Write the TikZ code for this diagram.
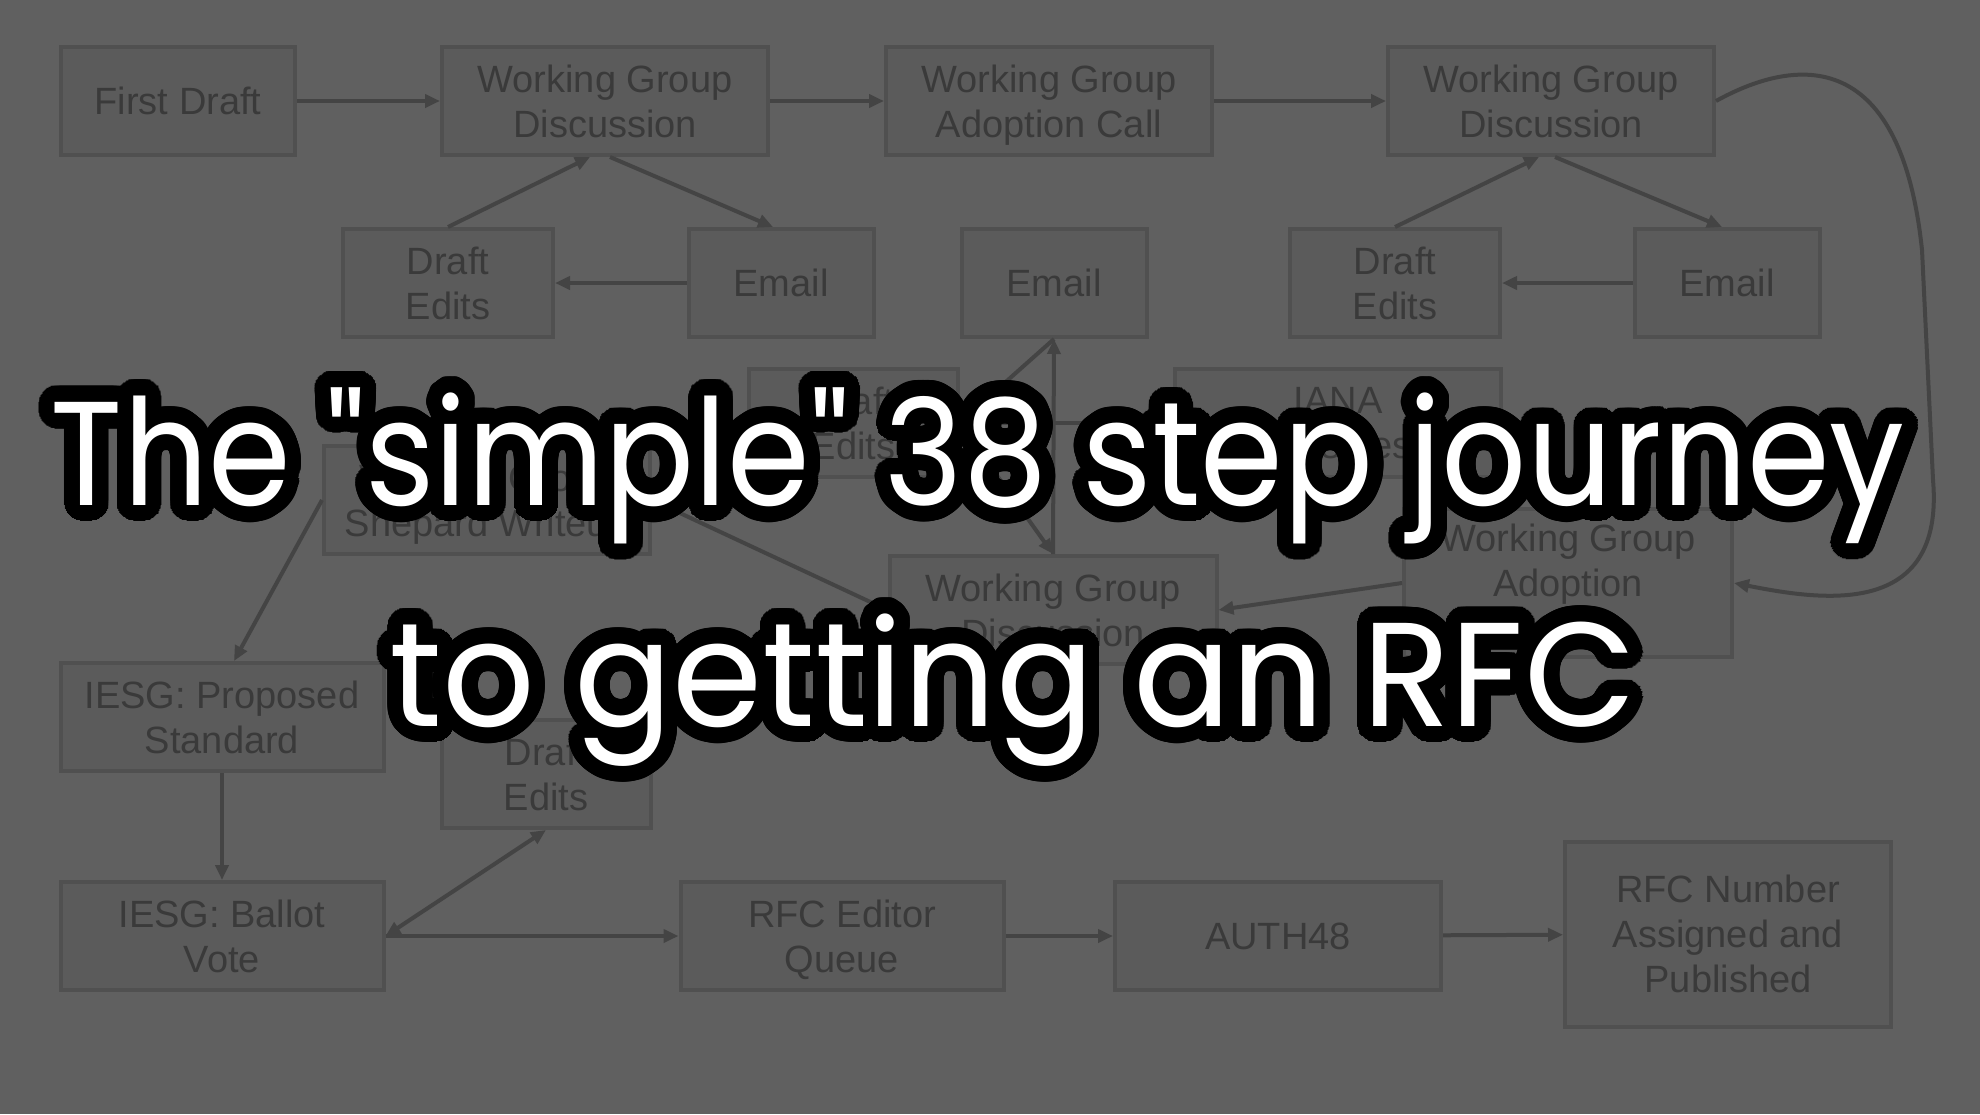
\documentclass[tikz,border=0pt]{standalone}
\usepackage{fontspec}
\setmainfont{Liberation Sans}
\newfontfamily\titlefonta[FakeStretch=0.90]{Poppins}
\newfontfamily\titlefontb[FakeStretch=0.98]{Poppins}
\usepackage[copies]{contour}
\contourlength{16pt}
\contournumber{60}
\usetikzlibrary{arrows.meta}
\definecolor{bg}{RGB}{96,96,96}
\definecolor{boxfill}{RGB}{91,91,91}
\definecolor{boxline}{RGB}{80,80,80}
\definecolor{boxtext}{RGB}{58,58,58}
\definecolor{arr}{RGB}{68,68,68}
\tikzset{
  box/.style={draw=boxline, fill=boxfill, line width=4pt, inner sep=0pt,
    text=boxtext, align=center, font=\fontsize{38}{45}\selectfont,
    minimum height=108pt, text depth=0pt},
  conn/.style={draw=arr, line width=4pt, -{Triangle[length=15pt,width=13pt]}},
  both/.style={draw=arr, line width=4pt,
    {Triangle[length=15pt,width=13pt]}-{Triangle[length=15pt,width=13pt]}},
  titletext/.style={text=white, inner sep=0pt}
}
\begin{document}
\begin{tikzpicture}[x=1pt,y=-1pt]
\useasboundingbox (0,0) rectangle (1980,1114);
\fill[bg] (0,0) rectangle (1980,1114);

% row 1
\node[box, minimum width=234pt] (fd) at (178,101) {First Draft};
\node[box, minimum width=326pt] (wgd1) at (605,101) {Working Group\\Discussion};
\node[box, minimum width=326pt] (wgac1) at (1049,101) {Working Group\\Adoption Call};
\node[box, minimum width=326pt] (wgd2) at (1551,101) {Working Group\\Discussion};
% row 2
\node[box, minimum width=210pt] (de1) at (448,283) {Draft\\Edits};
\node[box, minimum width=185pt] (em1) at (781,283) {Email};
\node[box, minimum width=185pt] (em2) at (1054,283) {Email};
\node[box, minimum width=210pt] (de2) at (1395,283) {Draft\\Edits};
\node[box, minimum width=185pt] (em3) at (1727,283) {Email};
% middle
\node[box, minimum width=209pt] (de3) at (853,423) {Draft\\Edits};
\node[box, minimum width=326pt] (iana) at (1338,423) {IANA\\Registries?};
\node[box, minimum width=326pt] (shep) at (487,500) {Working Group\\Shepard Writeup};
\node[box, minimum width=327pt] (wgd3) at (1053,610) {Working Group\\Discussion};
\node[box, minimum width=328pt, minimum height=148pt] (adopt2) at (1568,583) {Working Group\\Adoption\\Call};
% lower
\node[box, minimum width=323pt] (ps) at (222,717) {IESG: Proposed\\Standard};
\node[box, minimum width=209pt] (de4) at (546,774) {Draft\\Edits};
\node[box, minimum width=323pt] (ballot) at (222,936) {IESG: Ballot\\Vote};
\node[box, minimum width=323pt] (rfcq) at (842,936) {RFC Editor\\Queue};
\node[box, minimum width=326pt] (auth) at (1278,936) {AUTH48};
\node[box, minimum width=326pt, minimum height=185pt] (rfcn) at (1728,934) {RFC Number\\Assigned and\\Published};

% connectors
\draw[conn] (fd) -- (wgd1);
\draw[conn] (wgd1) -- (wgac1);
\draw[conn] (wgac1) -- (wgd2);
\draw[conn] (de1.north) -- ([xshift=-15pt]wgd1.south);
\draw[conn] ([xshift=5pt]wgd1.south) -- ([xshift=-8pt]em1.north);
\draw[conn] (em1) -- (de1);
\draw[conn] (de2.north) -- ([xshift=-12pt]wgd2.south);
\draw[conn] ([xshift=4pt]wgd2.south) -- ([xshift=-5pt]em3.north);
\draw[conn] (em3) -- (de2);
\draw[conn] (wgd2.east) .. controls (1790,60) and (1900,40) .. (1922,250)
  -- (1933,480) .. controls (1945,620) and (1820,600) .. (adopt2.east);
\draw[conn] (wgd3.north) -- (em2.south);
\draw[conn] (em2.south) -- (de3.east);
\draw[conn] (de3.east) -- (wgd3.north);
\draw[conn] (de3.east) -- (iana.west);
\draw[conn] (wgd3.west) -- (shep.east);
\draw[conn] (shep.west) -- ([xshift=12pt]ps.north);
\draw[conn] (adopt2.west) -- (wgd3.east);
\draw[conn] (ps) -- (ballot);
\draw[both] (ballot.east) -- (de4.south);
\draw[conn] (ballot.east) -- (rfcq.west);
\draw[conn] (rfcq) -- (auth);
\draw[conn] (auth) -- (rfcn);

% title
\node[titletext, anchor=base, font=\titlefonta\fontsize{148}{148}\selectfont] (t1) at (978,505) {\contour{black}{The "simple" 38 step journey}};
\node[titletext, anchor=base, font=\titlefontb\fontsize{148}{148}\selectfont] (t2) at (1013,726) {\contour{black}{to getting an RFC}};
\end{tikzpicture}
\end{document}
